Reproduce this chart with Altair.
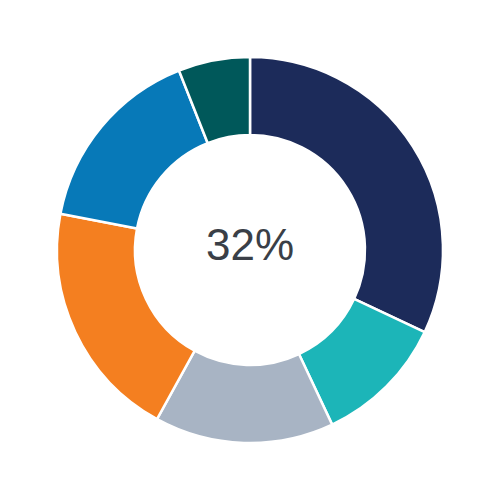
import altair as alt
import pandas as pd

categories = ["A", "B", "C", "D", "E", "F"]
values = [32, 11, 15, 20, 16, 6]
colors = ["#1c2b5a", "#1cb5b8", "#a8b4c4", "#f47f20", "#0779b8", "#00585a"]
center_label = "32%"

df = pd.DataFrame({"cat": categories, "value": values, "idx": list(range(len(categories)))})

arcs = alt.Chart(df).mark_arc(outerRadius=193, innerRadius=115, stroke="white", strokeWidth=2.5).encode(
    theta=alt.Theta("value:Q", stack=True),
    color=alt.Color("cat:N", scale=alt.Scale(domain=categories, range=colors), legend=None),
    order=alt.Order("idx:Q"),
)

text = alt.Chart(pd.DataFrame({"t": [center_label]})).mark_text(
    fontSize=44, font="Liberation Sans", color="#3a3f47", baseline="middle", align="center"
).encode(text="t:N", x=alt.value(242), y=alt.value(239))

chart = (arcs + text).properties(
    width=484, height=484, padding=0, autosize=alt.AutoSizeParams(type="none")
).configure_view(stroke=None)

chart.save("out.html", embed_options={"renderer": "svg", "actions": False})
